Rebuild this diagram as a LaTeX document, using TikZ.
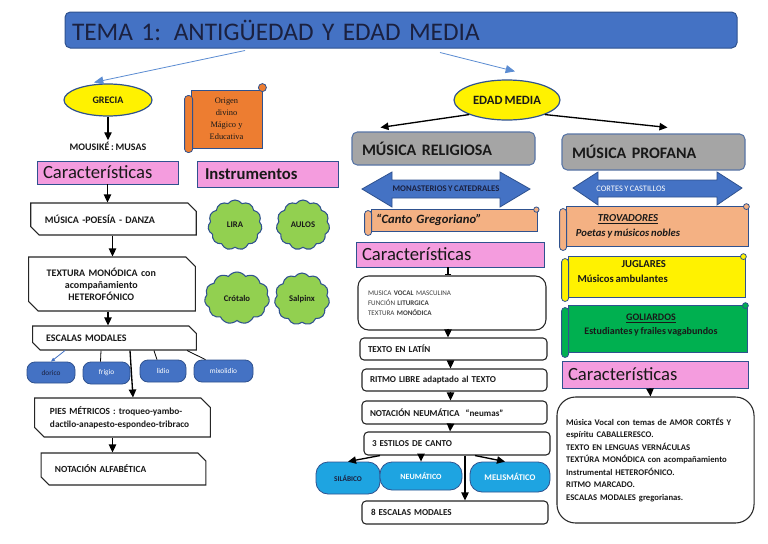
\documentclass[tikz,border=0pt]{standalone}
\usepackage{fontspec}
\setmainfont{Carlito}[WordSpace=0.75]
\newfontfamily\serifo{Liberation Serif}
\usetikzlibrary{shapes.geometric,shapes.misc,shapes.symbols,arrows.meta,calc}

\definecolor{temablue}{RGB}{68,114,196}
\definecolor{edgeblue}{RGB}{47,82,143}
\definecolor{azulclaro}{RGB}{91,140,210}
\definecolor{azultinta}{RGB}{27,33,64}
\definecolor{rosa}{RGB}{244,156,222}
\definecolor{verdenube}{RGB}{146,208,80}
\definecolor{grisclaro}{RGB}{165,165,165}
\definecolor{melocoton}{RGB}{244,177,131}
\definecolor{naranja}{RGB}{237,125,49}
\definecolor{celeste}{RGB}{30,164,225}
\definecolor{verde}{RGB}{0,176,80}
\definecolor{tinta}{RGB}{25,25,25}

\tikzset{every picture/.style={line width=0.75pt}}
\tikzset{
  titulo/.style={rectangle, rounded corners=4pt, fill=temablue, draw=edgeblue,
    minimum width=504pt, minimum height=27pt, text width=493.5pt, align=left,
    inner xsep=5.25pt, inner ysep=0pt, text=azultinta, font=\fontsize{19}{22}\selectfont},
  elipse/.style={ellipse, draw=edgeblue, fill=yellow, line width=0.9pt, inner sep=0pt,
    text=tinta, font=\fontsize{7.5}{9}\selectfont\bfseries},
  rosabox/.style={rectangle, draw=edgeblue, fill=rosa, line width=0.6pt, inner ysep=0pt,
    align=left, text=tinta, font=\fontsize{14}{16}\selectfont},
  caja/.style={chamfered rectangle, chamfered rectangle corners={north east,south west},
    chamfered rectangle xsep=4pt, draw=black!85, fill=white, line width=0.8pt,
    inner xsep=7.5pt, inner ysep=0pt, align=left, text=tinta,
    font=\fontsize{7.5}{9}\selectfont\bfseries},
  pastilla/.style={rectangle, rounded corners=6pt, fill=temablue, draw=edgeblue,
    line width=0.6pt, inner sep=0pt, text=white, font=\fontsize{5.5}{6}\selectfont},
  nube/.style={cloud, cloud puffs=11, cloud puff arc=110, aspect=1.1, draw=edgeblue,
    fill=verdenube, line width=0.8pt, inner sep=0pt, text=tinta,
    font=\fontsize{6.5}{8}\selectfont\bfseries},
  grisbox/.style={rectangle, rounded corners=4pt, fill=grisclaro, draw=edgeblue!80,
    line width=0.8pt, inner xsep=7.5pt, align=left, text=tinta,
    font=\fontsize{12}{14}\selectfont\bfseries},
  etapa/.style={rectangle, rounded corners=3pt, draw=black!85, fill=white,
    line width=0.8pt, inner xsep=6pt, inner ysep=0pt, align=left, text=tinta,
    font=\fontsize{6.8}{8}\selectfont\bfseries},
  celestes/.style={rectangle, rounded corners=9pt, fill=celeste, draw=edgeblue,
    line width=0.6pt, inner sep=0pt, text=white, font=\fontsize{6}{7}\selectfont\bfseries},
  rollo/.style={draw=edgeblue, line width=0.6pt},
  flecha/.style={-{Triangle[length=6pt,width=5.5pt]}, line width=1pt, black},
  flechaazul/.style={-{Triangle[length=7pt,width=6pt]}, line width=0.6pt, azulclaro},
  linea/.style={line width=0.6pt, black}
}

\begin{document}
\begin{tikzpicture}[x=0.75pt,y=0.75pt,yscale=-1,xscale=1]
\fill[white] (0,0) rectangle (768,543);
\path[use as bounding box] (0,0) rectangle (768,543);

%Title
\node[titulo] (tema) at (401,30) {\raisebox{-3.5pt}{TEMA 1: ANTIGÜEDAD Y EDAD MEDIA}};

%Grecia column
\node[elipse, minimum width=66pt, minimum height=24pt] (grecia) at (108,100) {GRECIA};
\node[text=tinta, font=\fontsize{7.5}{9}\selectfont\bfseries, inner sep=0.75pt] (mousike) at (108,146) {MOUSIKÉ : MUSAS};

%Shape: vertical scroll
\node[rectangle, fill=naranja, rollo, minimum width=53.25pt, minimum height=43.5pt, align=center,
  text=tinta, font=\serifo\fontsize{6.3}{9}\selectfont] (origen) at (226.5,119) {Origen\\divino\\Mágico y\\Educativa};
\draw[rollo, fill=naranja, rounded corners=2.5pt] ($(origen.north west)+(-6,6)$) rectangle ($(origen.south west)+(2,4)$);
\fill[naranja] ($(origen.north east)+(0,-2)$) circle[radius=3pt];
\draw[rollo] ($(origen.north east)+(0,-2)$) circle[radius=3pt];

\node[rosabox, minimum width=105.75pt, minimum height=17.25pt, text width=96.75pt, inner xsep=4.5pt] (car1) at (107.5,172.5) {Características};
\node[rosabox, minimum width=105.75pt, minimum height=19.5pt, text width=93.75pt, inner xsep=6pt,
  font=\fontsize{12.5}{14}\selectfont\bfseries] (inst) at (267.5,174) {Instrumentos};

\node[caja, minimum width=117.75pt, minimum height=24pt, text width=102.75pt] (musica) at (113.5,219) {MÚSICA -POESÍA - DANZA};
\node[caja, minimum width=117pt, minimum height=40.5pt, text width=102pt] (textura) at (112,284)
  {\parbox{86pt}{\centering TEXTURA MONÓDICA con\\acompañamiento\\HETEROFÓNICO}};
\node[caja, minimum width=117.75pt, minimum height=18pt, text width=102.75pt] (escalas) at (114.5,338) {ESCALAS MODALES};

\node[pastilla, minimum width=36pt, minimum height=15.75pt, text=azultinta] (dorico) at (51,372.5) {dorico};
\node[pastilla, minimum width=35.25pt, minimum height=16.5pt] (frigio) at (106.5,373) {frigio};
\node[pastilla, minimum width=34.5pt, minimum height=16.5pt] (lidio) at (163,371) {lidio};
\node[pastilla, minimum width=44.25pt, minimum height=16.5pt] (mixolidio) at (223.5,371) {mixolidio};

\node[caja, minimum width=123.75pt, minimum height=29.25pt, text width=108.75pt,
  font=\fontsize{7}{9.75}\selectfont\bfseries] (pies) at (122.5,417.5) {PIES MÉTRICOS : troqueo-yambo-\\dactilo-anapesto-espondeo-tribraco};
\node[caja, minimum width=117.75pt, minimum height=24pt, text width=102.75pt,
  font=\fontsize{7}{9}\selectfont\bfseries] (nota) at (123.5,469) {NOTACIÓN ALFABÉTICA};

%Instruments
\node[nube, minimum width=40.5pt, minimum height=37.5pt] (lira) at (235,225) {LIRA};
\node[nube, minimum width=40pt, minimum height=37.5pt] (aulos) at (303,225) {AULOS};
\node[nube, minimum width=48.75pt, minimum height=39pt] (crotalo) at (237,298) {Crótalo};
\node[nube, minimum width=41.25pt, minimum height=39pt] (salpinx) at (302,299) {Salpinx};

%Edad media
\node[elipse, minimum width=79.5pt, minimum height=30pt, font=\fontsize{9.5}{11}\selectfont\bfseries] (emedia) at (507,100) {EDAD MEDIA};
\node[grisbox, minimum width=137.25pt, minimum height=24.75pt, text width=122.25pt] (relig) at (443.5,148.5) {MÚSICA RELIGIOSA};
\node[grisbox, minimum width=137.25pt, minimum height=27pt, text width=122.25pt] (prof) at (653.5,152) {MÚSICA PROFANA};

%Shape: double arrows
\draw[fill=temablue, draw=edgeblue, line width=0.6pt] (362,189) -- (392,172) -- (392,180) -- (500,180) -- (500,172) -- (530,189) -- (500,207) -- (500,198) -- (392,198) -- (392,207) -- cycle;
\node[text=azultinta, font=\fontsize{6.5}{8}\selectfont\bfseries, inner sep=0pt] (monast) at (446,189) {MONASTERIOS Y CATEDRALES};
\draw[fill=temablue, draw=edgeblue, line width=0.6pt] (573,188) -- (598,172) -- (598,180) -- (717,180) -- (717,172) -- (742,188) -- (717,205) -- (717,197) -- (598,197) -- (598,205) -- cycle;
\node[text=white, font=\fontsize{6.3}{8}\selectfont, inner sep=0pt] (cortes) at (631,189) {CORTES Y CASTILLOS};

%Shape: horizontal scroll
\node[rectangle, fill=melocoton, rollo, minimum width=124.5pt, minimum height=16.5pt, text width=117pt,
  inner xsep=3.75pt, inner ysep=0pt, align=left, text=tinta, font=\fontsize{9.5}{11}\selectfont\bfseries\itshape] (canto) at (454,220) {“Canto Gregoriano”};
\draw[rollo, fill=melocoton, rounded corners=2.5pt] ($(canto.north west)+(-6,2)$) rectangle ($(canto.south west)+(1,4)$);
\draw[rollo, fill=melocoton] ($(canto.north east)+(-1,1)$) circle[radius=2pt];

\node[rosabox, minimum width=141pt, minimum height=18.75pt, text width=132pt, inner xsep=4.5pt] (car2) at (450,254.5) {Características};
\node[rectangle, rounded corners=8pt, draw=black!85, fill=white, line width=0.8pt, minimum width=141pt,
  minimum height=40.5pt, text width=126pt, inner xsep=7.5pt, align=left, text=black!75,
  font=\fontsize{5.3}{7.5}\selectfont] (rbox) at (452,303) {MUSICA \textbf{VOCAL} MASCULINA\\FUNCIÓN \textbf{LITURGICA}\\TEXTURA \textbf{MONÓDICA}};
\node[etapa, minimum width=140.25pt, minimum height=16.5pt, text width=128.25pt] (latin) at (453.5,349) {TEXTO EN LATÍN};
\node[etapa, minimum width=138.75pt, minimum height=16.5pt, text width=126.75pt] (ritmo) at (454.5,380) {RITMO LIBRE adaptado al TEXTO};
\node[etapa, minimum width=138.75pt, minimum height=17.25pt, text width=126.75pt] (neum) at (454.5,412.5) {NOTACIÓN NEUMÁTICA \ “neumas”};
\node[etapa, minimum width=139.5pt, minimum height=17.25pt, text width=127.5pt] (estilos) at (457,443.5) {3 ESTILOS DE CANTO};
\node[celestes, minimum width=48pt, minimum height=24pt, text=azultinta, font=\fontsize{5.5}{7}\selectfont\bfseries] (silab) at (348,478) {SILÁBICO};
\node[celestes, minimum width=61.5pt, minimum height=21pt] (neumat) at (421,476) {NEUMÁTICO};
\node[celestes, minimum width=60pt, minimum height=22.5pt, font=\fontsize{6.5}{7}\selectfont\bfseries] (melis) at (510,477) {MELISMÁTICO};
\node[etapa, minimum width=139.5pt, minimum height=17.25pt, text width=126pt] (escalas8) at (455,512.5) {8 ESCALAS MODALES};

%Musica profana scrolls
\node[rectangle, fill=melocoton, rollo, minimum width=136.5pt, minimum height=30pt] (trov) at (657,226) {};
\draw[rollo, fill=melocoton, rounded corners=2.5pt] ($(trov.north west)+(-6,3)$) rectangle ($(trov.south west)+(1,4)$);
\draw[rollo, fill=melocoton] ($(trov.north east)+(-2,1)$) circle[radius=2.2pt];
\node[align=center, text=tinta, font=\fontsize{8}{11.25}\selectfont\bfseries\itshape, inner sep=0pt] (trovtxt) at (628,226) {\underline{TROVADORES}\\Poetas y músicos nobles};

\node[rectangle, fill=yellow, rollo, minimum width=132.75pt, minimum height=30.75pt] (jugl) at (656.5,276.5) {};
\draw[rollo, fill=yellow, rounded corners=2.5pt] ($(jugl.north west)+(-6,3)$) rectangle ($(jugl.south west)+(1,4)$);
\draw[rollo, fill=yellow] ($(jugl.north east)+(-2,1)$) circle[radius=2.2pt];
\node[anchor=west, align=left, text=tinta, font=\fontsize{8}{11.25}\selectfont\bfseries, inner sep=0pt] (jugltxt) at (577,272) {\hspace*{33pt}JUGLARES\\Músicos ambulantes};

\node[rectangle, fill=verde, rollo, minimum width=134.25pt, minimum height=35.25pt] (goli) at (657.5,328.5) {};
\draw[rollo, fill=verde, rounded corners=2.5pt] ($(goli.north west)+(-6,3)$) rectangle ($(goli.south west)+(1,5)$);
\draw[rollo, fill=verde] ($(goli.north east)+(-2,1)$) circle[radius=2.2pt];
\node[align=center, text=tinta, font=\fontsize{7.5}{10}\selectfont\bfseries, inner sep=0pt] (golitxt) at (651,325) {\underline{GOLIARDOS}\\Estudiantes y frailes vagabundos};

\node[rosabox, minimum width=139.5pt, minimum height=20.25pt, text width=130.5pt, inner xsep=4.5pt] (car3) at (655,374.5) {Características};
\node[rectangle, rounded corners=14pt, draw=black!85, fill=white, line width=0.8pt, minimum width=147.75pt,
  minimum height=94.5pt, text width=134pt, inner xsep=6.9pt, align=left, text=tinta,
  font=\fontsize{6.5}{9.4}\selectfont\bfseries] (pbox) at (655.5,460)
  {Música Vocal con temas de AMOR CORTÉS Y\\espíritu CABALLERESCO.\\TEXTO EN LENGUAS VERNÁCULAS\\TEXTÚRA MONÓDICA con acompañamiento\\Instrumental HETEROFÓNICO.\\RITMO MARCADO.\\ESCALAS MODALES gregorianas.};

%Connectors
\draw[flechaazul] ($(tema.south)+(-156,2)$) -- ($(grecia.north)+(-14,-1)$);
\draw[flechaazul] ($(tema.south)+(39,4)$) -- ($(emedia.north)+(8,-8)$);
\draw[flecha] (grecia.south) -- (mousike.north);
\draw[flecha] (car1.south) -- (car1.south |- musica.north);
\draw[flecha] ($(musica.south)+(-1,0)$) -- ($(musica.south |- textura.north)+(-1,0)$);
\draw[flecha] ($(textura.south)+(-4,0)$) -- ($(textura.south |- escalas.north)+(-4,0)$);
\draw[linea, draw=temablue, -{Triangle[length=3pt,width=2.5pt]}] ($(escalas.south)+(-49.5,0)$) -- (dorico.north);
\draw[linea] ($(escalas.south)+(-13.5,0)$) -- ($(frigio.north)+(-6,0)$);
\draw[linea] ($(escalas.south)+(39.5,0)$) -- ($(lidio.north)+(-6,0)$);
\draw[linea] ($(escalas.south)+(72.5,0)$) -- ($(mixolidio.north)+(-18,0)$);
\draw[flecha] ($(escalas.south)+(15.5,0)$) -- ($(pies.north)+(10.5,0)$);
\draw[flecha] ($(pies.south)+(-10,0)$) -- ($(nota.north)+(-11,0)$);

\draw[flecha] (emedia.south west) -- ($(relig.north)+(-63,-4)$);
\draw[flecha] (emedia.south east) -- ($(prof.north)+(14,-6)$);
\draw[-{Bar[width=5pt]}, line width=0.8pt] ($(car2.south)+(-2,0)$) -- ($(rbox.north)+(-4,0)$);
\draw[flecha] ($(rbox.south)+(-4,-2)$) -- ($(latin.north)+(-5.5,0)$);
\draw[flecha] ($(latin.south)+(-3,0)$) -- ($(ritmo.north)+(-4,0)$);
\draw[flecha] ($(ritmo.south)+(-4,0)$) -- ($(neum.north)+(-4,0)$);
\draw[flecha] ($(neum.south)+(-4,0)$) -- ($(estilos.north)+(-7,0)$);
\draw[flecha] ($(estilos.south)+(-77,0)$) -- (silab.north);
\draw[flecha] ($(estilos.south)+(-36,0)$) -- (neumat.north);
\draw[flecha] ($(estilos.south)+(18,0)$) -- ($(melis.north)+(-5,0)$);
\draw[flecha] ($(estilos.south)+(8,0)$) -- ($(escalas8.north)+(10,0)$);
\draw[flecha] ($(car3.south)+(-5,0)$) -- ($(pbox.north)+(-5,0)$);

\end{tikzpicture}
\end{document}
